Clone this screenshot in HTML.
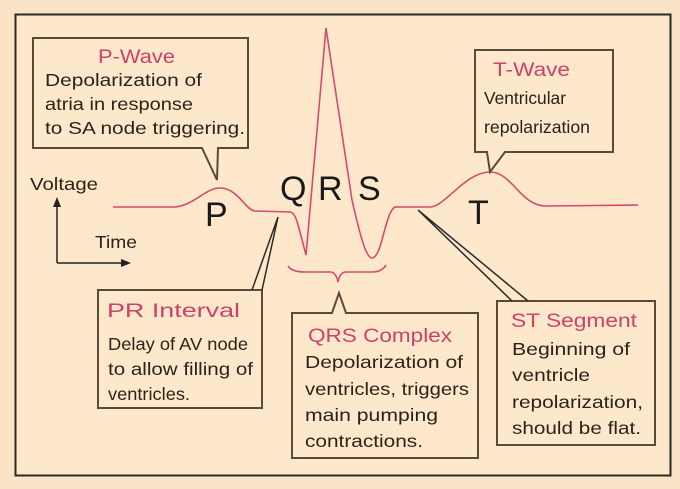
<!DOCTYPE html>
<html><head><style>
body{margin:0;background:#fbe4c6;}
svg{display:block;font-family:"Liberation Sans",sans-serif;}
.t{fill:#2b2218;font-size:17.5px}
.h{fill:#d0406a;font-size:19px}
</style></head><body>
<svg width="680" height="489" viewBox="0 0 680 489">
<rect width="680" height="489" fill="#fbe4c6"/>
<rect x="15.5" y="14.5" width="655" height="461" fill="#fde8cc" stroke="#2a2a2a" stroke-width="2"/>
<path d="M113,207 L175,207 C195,205 205,188 220,188 C238,188 245,210 255,211 L290,212 C296,212 298,225 306,255 L326,28 L352,200 C360,235 366,258 372,258 C382,258 385,212 395,207 L430,207 C445,207 465,172 490,172 C512,172 520,205 545,206 L638,205" fill="none" stroke="#d84a6c" stroke-width="1.6"/>
<path d="M288,266 Q292,272 305,272 L330,272 Q336,272 338,282 Q340,272 346,272 L372,272 Q382,272 386,265" fill="none" stroke="#d84a6c" stroke-width="1.6"/>
<g font-size="34" fill="#1a1a1a">
<text x="205" y="226">P</text><text x="280" y="200">Q</text><text x="318" y="200">R</text><text x="358" y="200">S</text><text x="468" y="224">T</text>
</g>
<text x="30" y="190" class="t" font-size="15" textLength="68" lengthAdjust="spacingAndGlyphs">Voltage</text>
<text x="95" y="248" class="t" font-size="15" textLength="42" lengthAdjust="spacingAndGlyphs">Time</text>
<path d="M57,263 V202 M57,263 H126" stroke="#222" stroke-width="1.5" fill="none"/>
<path d="M53,207 L57,197 L61,207Z M121,259 L131,263 L121,267Z" fill="#222"/>
<g fill="#fde8cc" stroke="#5a4a3a" stroke-width="2">
<path d="M33,38 H248 V148 H218 L217,180 L202,148 H33Z"/>
<path d="M475,50 H613 V152 H505 L490,172 L487,152 H475Z"/>
<rect x="98" y="290" width="164" height="118"/>
<path d="M292,313 H332 L339,293 L346,313 H478 V458 H292Z"/>
<rect x="497" y="301" width="158" height="144"/>
</g>
<path d="M252,290 L278,217 L262,290" fill="none" stroke="#2a2a2a" stroke-width="1.5"/>
<path d="M512,301 L418,210 L528,301" fill="none" stroke="#2a2a2a" stroke-width="1.5"/>
<g lengthAdjust="spacingAndGlyphs">
<text x="98" y="63" class="h" textLength="77" lengthAdjust="spacingAndGlyphs">P-Wave</text>
<text x="45" y="86" class="t" textLength="157" lengthAdjust="spacingAndGlyphs">Depolarization of</text>
<text x="45" y="110" class="t" textLength="148" lengthAdjust="spacingAndGlyphs">atria in response</text>
<text x="45" y="134" class="t" textLength="200" lengthAdjust="spacingAndGlyphs">to SA node triggering.</text>
<text x="493" y="76" class="h" textLength="77" lengthAdjust="spacingAndGlyphs">T-Wave</text>
<text x="484" y="104" class="t" textLength="82" lengthAdjust="spacingAndGlyphs">Ventricular</text>
<text x="484" y="133" class="t" textLength="106" lengthAdjust="spacingAndGlyphs">repolarization</text>
<text x="107" y="317" class="h" textLength="133" lengthAdjust="spacingAndGlyphs">PR  Interval</text>
<text x="108" y="350" class="t" textLength="140" lengthAdjust="spacingAndGlyphs">Delay of AV node</text>
<text x="108" y="375" class="t" textLength="145" lengthAdjust="spacingAndGlyphs">to allow filling of</text>
<text x="108" y="400" class="t" textLength="82" lengthAdjust="spacingAndGlyphs">ventricles.</text>
<text x="308" y="342" class="h" textLength="144" lengthAdjust="spacingAndGlyphs">QRS Complex</text>
<text x="305" y="368" class="t" textLength="158" lengthAdjust="spacingAndGlyphs">Depolarization of</text>
<text x="305" y="395" class="t" textLength="164" lengthAdjust="spacingAndGlyphs">ventricles, triggers</text>
<text x="305" y="421" class="t" textLength="133" lengthAdjust="spacingAndGlyphs">main pumping</text>
<text x="305" y="447" class="t" textLength="118" lengthAdjust="spacingAndGlyphs">contractions.</text>
<text x="511" y="327" class="h" textLength="126" lengthAdjust="spacingAndGlyphs">ST Segment</text>
<text x="512" y="355" class="t" textLength="118" lengthAdjust="spacingAndGlyphs">Beginning of</text>
<text x="512" y="381" class="t" textLength="78" lengthAdjust="spacingAndGlyphs">ventricle</text>
<text x="512" y="408" class="t" textLength="131" lengthAdjust="spacingAndGlyphs">repolarization,</text>
<text x="512" y="434" class="t" textLength="129" lengthAdjust="spacingAndGlyphs">should be flat.</text>
</g>
</svg>
</body></html>
